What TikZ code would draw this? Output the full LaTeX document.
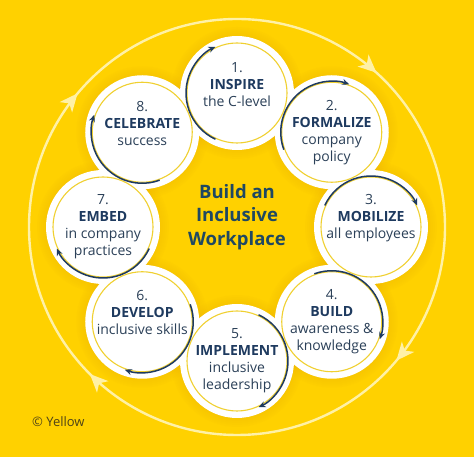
\documentclass[tikz,border=0pt]{standalone}
\usepackage{fontspec}
\setmainfont{Open Sans}
\usetikzlibrary{arrows.meta,decorations.markings,calc}
\definecolor{bgyellow}{RGB}{255,209,0}
\definecolor{navy}{HTML}{1E3A5F}
\definecolor{slate}{HTML}{2B4058}
\definecolor{titleblue}{HTML}{1F4862}
\definecolor{ringcol}{HTML}{FFF1A6}
\definecolor{thinyellow}{HTML}{F0D030}
\definecolor{copycol}{HTML}{4D4318}
\definecolor{shadowcol}{HTML}{E8A800}
\newcommand{\bt}[1]{\textbf{\color{navy}#1}}
\begin{document}
\begin{tikzpicture}[x=1pt,y=1pt,
  steptext/.style={align=center, font=\fontsize{14}{17}\selectfont, text=slate, inner sep=0pt},
  titletext/.style={align=center, font=\bfseries\fontsize{18.5}{23.5}\selectfont, text=titleblue, inner sep=0pt},
  ringline/.style={draw=ringcol, line width=2.4pt},
  bluearc/.style={draw=navy, line width=1.5pt, -{Stealth[length=7pt,width=6pt]}},
  disc/.style={fill=white},
  innerring/.style={draw=thinyellow, line width=1.1pt}]
\fill[bgyellow] (0,0) rectangle (474,457);
\useasboundingbox (0,0) rectangle (474,457);
\coordinate (O) at (237,230);
% big ring
\draw[ringline, postaction=decorate, decoration={markings,
  mark=at position 0.133 with {\arrowreversed[ringcol]{Stealth[length=18pt,width=16pt,inset=5pt]}},
  mark=at position 0.389 with {\arrowreversed[ringcol]{Stealth[length=18pt,width=16pt,inset=5pt]}},
  mark=at position 0.625 with {\arrowreversed[ringcol]{Stealth[length=18pt,width=16pt,inset=5pt]}},
  mark=at position 0.889 with {\arrowreversed[ringcol]{Stealth[length=18pt,width=16pt,inset=5pt]}}}]
  (O) circle[radius=208];
% node centres
\foreach \i/\a in {1/90,2/45,3/0,4/-45,5/-90,6/-135,7/180,8/135}
  \coordinate (c\i) at ($(O)+(\a:134)$);
% shadows
\foreach \i in {1,...,8}
  \foreach \r in {58,60,62,64,66}
    \fill[shadowcol, opacity=0.05] (c\i) circle[radius=\r];
% discs
\foreach \i in {1,...,8}
  \fill[disc] (c\i) circle[radius=57];
\foreach \i in {1,...,8}
  \draw[innerring] (c\i) circle[radius=50];
% blue arcs
\foreach \i/\a in {1/90,2/45,3/0,4/-45,5/-90,6/-135,7/180,8/135}{
  \pgfmathsetmacro{\sa}{\a+155}
  \pgfmathsetmacro{\ea}{\a+25}
  \draw[bluearc] ([shift={(\sa:51)}]c\i) arc[start angle=\sa, end angle=\ea, radius=51];
}
% texts
\node[steptext] (t1) at ($(c1)+(0,8)$) {1.\\\bt{INSPIRE}\\the C-level};
\node[steptext] (t2) at (c2) {2.\\\bt{FORMALIZE}\\company\\policy};
\node[steptext] (t3) at ($(c3)+(0,9)$) {3.\\\bt{MOBILIZE}\\all employees};
\node[steptext] (t4) at (c4) {4.\\\bt{BUILD}\\awareness \&\\knowledge};
\node[steptext] (t5) at (c5) {5.\\\bt{IMPLEMENT}\\inclusive\\leadership};
\node[steptext] (t6) at ($(c6)+(0,9)$) {6.\\\bt{DEVELOP}\\inclusive skills};
\node[steptext] (t7) at (c7) {7.\\\bt{EMBED}\\in company\\practices};
\node[steptext] (t8) at ($(c8)+(0,9)$) {8.\\\bt{CELEBRATE}\\success};
\node[titletext] (title) at ($(O)+(0,10)$) {Build an\\Inclusive\\Workplace};
\node[anchor=west, font=\fontsize{13}{15}\selectfont, text=copycol, inner sep=0pt] (copy) at (32,35) {© Yellow};
\end{tikzpicture}
\end{document}
